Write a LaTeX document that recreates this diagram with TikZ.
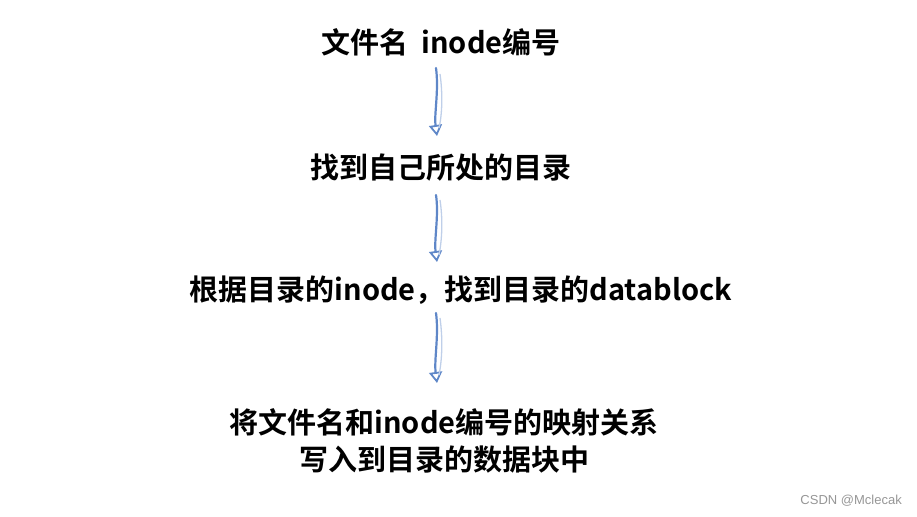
\documentclass[tikz,border=0pt]{standalone}
\usepackage{fontspec}
\setmainfont{Liberation Sans}
\newfontfamily\cjk{Noto Sans CJK SC}[BoldFont={Noto Sans CJK SC Bold}]
\usetikzlibrary{arrows.meta}
\definecolor{arrowblue}{RGB}{95,135,200}
\definecolor{wmgray}{RGB}{150,150,150}
\tikzset{
  lbl/.style={font=\cjk\bfseries\fontsize{29}{37}\selectfont, inner sep=0pt, align=center},
  flow/.style={draw=arrowblue, line width=2.2pt, line cap=round, -{Triangle[open, length=11pt, width=13pt, line width=1.8pt]}},
}
\begin{document}
\begin{tikzpicture}[x=1pt,y=-1pt]
\useasboundingbox (0,0) rectangle (917,516);
\node[lbl] (t1) at (441,42) {文件名\ \ inode编号};
\node[lbl] (t2) at (441,168) {找到自己所处的目录};
\node[lbl] (t3) at (461,290) {根据目录的inode，找到目录的datablock};
\node[lbl] (t4) at (444,441) {将文件名和inode编号的映射关系\\写入到目录的数据块中};
\coordinate (a1s) at (436,68);  \coordinate (a1e) at (437,136);
\coordinate (a2s) at (436,195); \coordinate (a2e) at (437,262);
\coordinate (a3s) at (436,313); \coordinate (a3e) at (437,383);
\draw[flow] (a1s) .. controls (439,90) and (434,115) .. (a1e);
\draw[flow] (a2s) .. controls (439,215) and (434,240) .. (a2e);
\draw[flow] (a3s) .. controls (439,335) and (434,360) .. (a3e);
\draw[arrowblue!40, line width=1.3pt] (440,74) .. controls (443,95) and (442,115) .. (439,128);
\draw[arrowblue!40, line width=1.3pt] (440,200) .. controls (443,220) and (442,240) .. (439,255);
\draw[arrowblue!40, line width=1.3pt] (440,318) .. controls (443,340) and (442,360) .. (439,375);
\node[font=\fontsize{13}{15}\selectfont, text=wmgray, anchor=east, inner sep=0pt] (wm) at (902,501) {CSDN @Mclecak};
\end{tikzpicture}
\end{document}
